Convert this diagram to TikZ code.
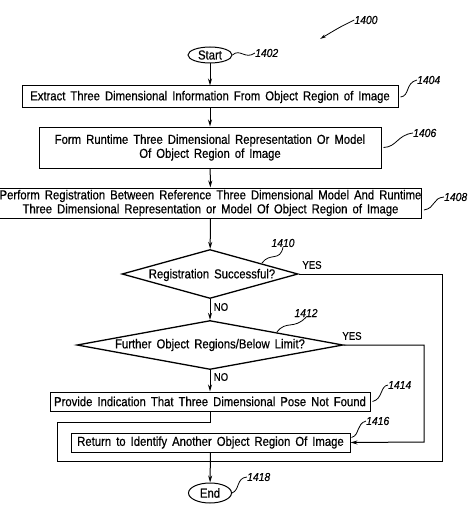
\documentclass[tikz,border=0pt]{standalone}
\usepackage{fontspec}
\setmainfont[FakeStretch=0.87,WordSpace=1.6,FakeBold=0.6]{Liberation Sans}
\newfontfamily\reffont[FakeStretch=0.9,FakeBold=0.4]{Liberation Sans}
\usetikzlibrary{shapes.geometric,arrows.meta}
\begin{document}
\begin{tikzpicture}[x=1pt,y=-1pt,
  box/.style={draw,line width=1pt,inner sep=0pt,font=\fontsize{13}{14}\selectfont,align=center},
  term/.style={draw,ellipse,line width=1pt,inner sep=0pt,font=\fontsize{13}{14}\selectfont},
  dec/.style={draw,diamond,line width=1.3pt,inner sep=0pt},
  dtext/.style={font=\fontsize{13}{14}\selectfont},
  flow/.style={line width=1pt,-{Stealth[length=7pt,width=4pt]}},
  wire/.style={line width=1pt},
  lead/.style={line width=0.8pt},
  ref/.style={font=\reffont\itshape\fontsize{11.5}{12}\selectfont,inner sep=0pt},
  yn/.style={font=\fontsize{11}{12}\selectfont,inner sep=0pt}]
\useasboundingbox (0,0) rectangle (474,524);
% nodes
\node[term,minimum width=44pt,minimum height=16pt] (start) at (210,55) {Start};
\node[box,minimum width=376pt,minimum height=22pt] (b1404) at (210,97) {Extract Three Dimensional Information From Object Region of Image};
\node[box,minimum width=342pt,minimum height=41pt] (b1406) at (210,147.5) {Form Runtime Three Dimensional Representation Or Model\\Of Object Region of Image};
\node[box,minimum width=419pt,minimum height=30pt] (b1408) at (210.5,203) {Perform Registration Between Reference Three Dimensional Model And Runtime\\Three Dimensional Representation or Model Of Object Region of Image};
\node[dec,minimum width=176pt,minimum height=49pt] (d1410) at (210,274) {};
\node[dtext] (t1410) at (212,275) {Registration Successful?};
\node[dec,minimum width=266pt,minimum height=49pt] (d1412) at (210,345) {};
\node[dtext] (t1412) at (210,345) {Further Object Regions/Below Limit?};
\node[box,minimum width=320pt,minimum height=19pt] (b1414) at (210,401.5) {Provide Indication That Three Dimensional Pose Not Found};
\node[box,minimum width=279pt,minimum height=19pt] (b1416) at (210.5,442.5) {Return to Identify Another Object Region Of Image};
\node[term,minimum width=43pt,minimum height=20pt] (end) at (210,493) {End};
% connectors
\draw[flow] (start) -- (b1404);
\draw[flow] (b1404) -- (b1406);
\draw[flow] (b1406) -- (b1408);
\draw[flow] (b1408) -- (d1410);
\draw[flow] (d1410.south) -- (d1412.north);
\draw[flow] (d1412.south) -- (b1414);
\draw[flow] (b1416) -- (end);
\draw[wire] (d1410.east) -- (442,274) -- (442,461) -- (57,461) -- (57,422) -- (210,422) -- (b1414.south);
\draw[flow] (d1412.east) -- (424,345) -- (424,442) -- (b1416.east);
% yes/no
\node[yn] (y1) at (312,265) {YES};
\node[yn] (n1) at (221,307) {NO};
\node[yn] (y2) at (352,336) {YES};
\node[yn] (n2) at (221,377) {NO};
% reference numerals
\node[ref] (r1400) at (366,20) {1400};
\draw[lead,-{Stealth[length=6pt,width=3pt]}] (r1400.west) .. controls (340,27) .. (320,39);
\node[ref,anchor=west] (r1402) at (255,53) {1402};
\draw[lead] (start.east) .. controls (240,48) and (245,60) .. (r1402.west);
\node[ref,anchor=west] (r1404) at (417,80) {1404};
\draw[lead] (b1404.east) ++(2,0) .. controls (410,96) and (405,83) .. (r1404.west);
\node[ref,anchor=west] (r1406) at (413,133) {1406};
\draw[lead] (b1406.east) ++(2,0) .. controls (397,147) and (397,135) .. (r1406.west);
\node[ref,anchor=west] (r1408) at (444,197) {1408};
\draw[lead] (b1408.east) ++(2,7) .. controls (436,208) and (432,198) .. (r1408.west);
\node[ref] (r1410) at (283,243) {1410};
\draw[lead] (262,263) .. controls (270,252) and (280,262) .. (r1410.south);
\node[ref] (r1412) at (306,313) {1412};
\draw[lead] (277,332) .. controls (286,320) and (294,330) .. (r1412.south);
\node[ref,anchor=west] (r1414) at (388,385) {1414};
\draw[lead] (b1414.east) ++(2,0) .. controls (383,399) and (380,386) .. (r1414.west);
\node[ref,anchor=west] (r1416) at (366,421) {1416};
\draw[lead] (b1416.east) ++(1,-5) .. controls (360,435) and (356,424) .. (r1416.west);
\node[ref,anchor=west] (r1418) at (247,477) {1418};
\draw[lead] (end.east) .. controls (240,490) and (236,478) .. (r1418.west);
\end{tikzpicture}
\end{document}
